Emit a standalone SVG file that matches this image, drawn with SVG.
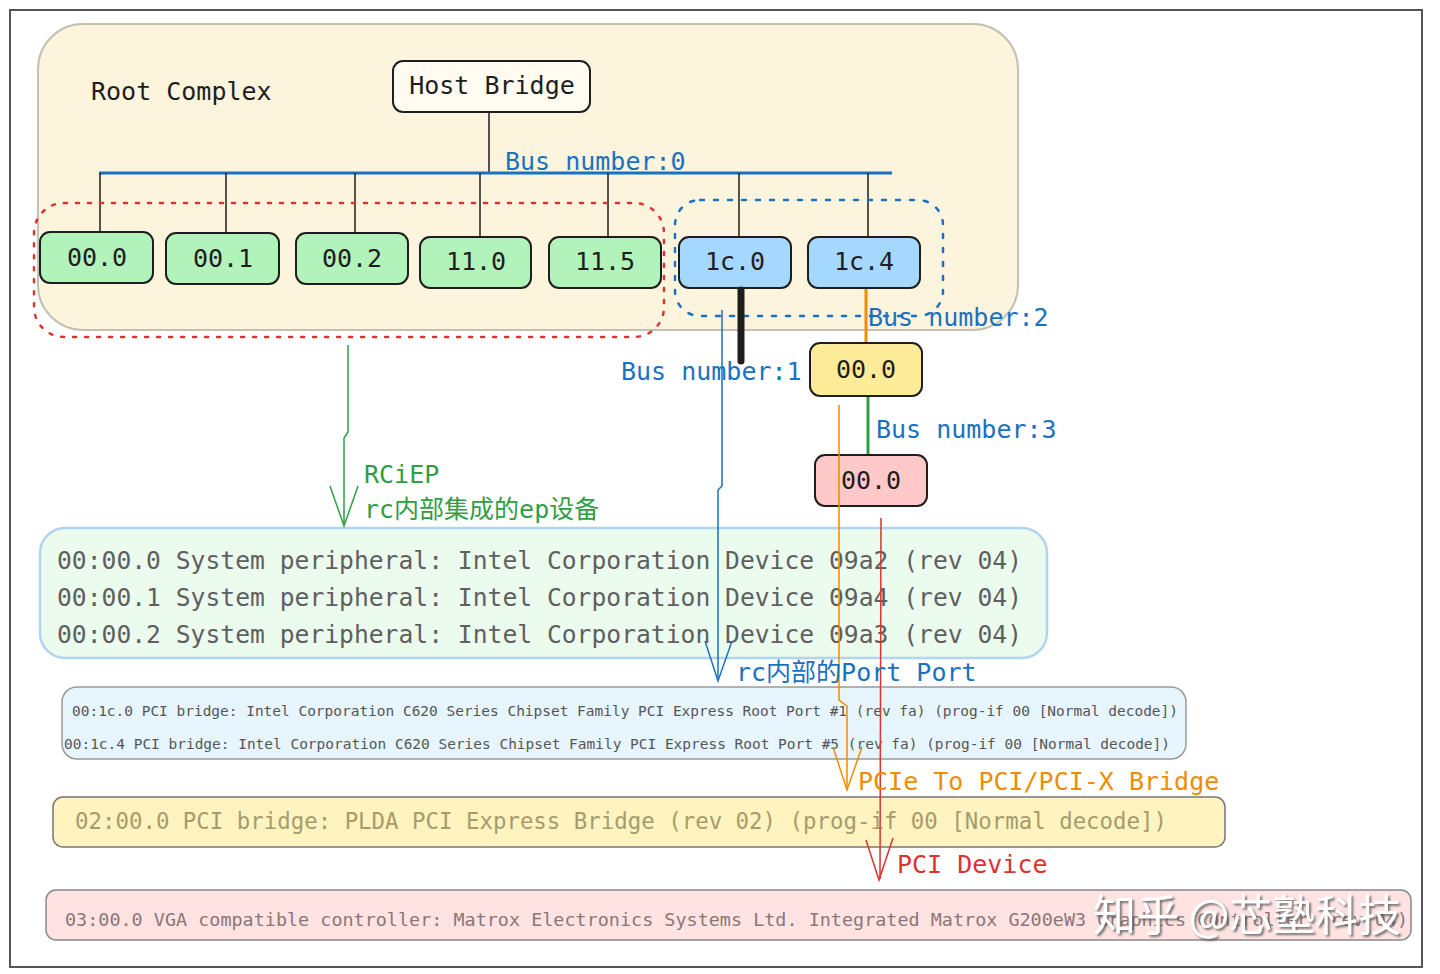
<svg xmlns="http://www.w3.org/2000/svg" width="1440" height="974" viewBox="0 0 1440 974">
<style>
.m{font-family:"DejaVu Sans Mono","Liberation Mono","Noto Sans CJK SC",monospace;font-size:25px}
.node{stroke:#1e1e1e;stroke-width:2}
.lbl{fill:#1e1e1e;text-anchor:middle}
.blue{fill:#1971c2}
.drop{stroke:#1e1e1e;stroke-width:1.5;fill:none}
.lsp{font-family:"DejaVu Sans Mono","Liberation Mono",monospace}
</style>
<defs>
<filter id="wm" x="-5%" y="-20%" width="110%" height="140%">
<feDropShadow dx="2" dy="2" stdDeviation="1" flood-color="#555" flood-opacity="0.8"/>
</filter>
</defs>
<rect x="0" y="0" width="1440" height="974" fill="#ffffff"/>
<rect x="10" y="10" width="1412" height="957" fill="#ffffff" stroke="#555" stroke-width="2"/>

<g id="root-complex">
<rect x="38" y="24" width="980" height="306" rx="45" fill="#fcf4dc" stroke="#c4c0b4" stroke-width="2"/>
<text class="m" x="91" y="100" fill="#1e1e1e">Root Complex</text>
</g>

<g id="host-bridge">
<rect class="node" x="393" y="61" width="197" height="51" rx="10" fill="#fffbf0"/>
<text class="m lbl" x="492" y="94">Host Bridge</text>
</g>

<g id="n-00-0"><rect class="node" x="40" y="232" width="113" height="51" rx="10" fill="#b2f2bb"/><text class="m lbl" x="97" y="266">00.0</text></g>
<g id="n-00-1"><rect class="node" x="166" y="233" width="113" height="51" rx="10" fill="#b2f2bb"/><text class="m lbl" x="223" y="267">00.1</text></g>
<g id="n-00-2"><rect class="node" x="296" y="233" width="112" height="51" rx="10" fill="#b2f2bb"/><text class="m lbl" x="352" y="267">00.2</text></g>
<g id="n-11-0"><rect class="node" x="420" y="237" width="111" height="51" rx="10" fill="#b2f2bb"/><text class="m lbl" x="476" y="270">11.0</text></g>
<g id="n-11-5"><rect class="node" x="549" y="237" width="112" height="51" rx="10" fill="#b2f2bb"/><text class="m lbl" x="605" y="270">11.5</text></g>
<g id="n-1c-0"><rect class="node" x="679" y="237" width="112" height="51" rx="10" fill="#a5d8ff"/><text class="m lbl" x="735" y="270">1c.0</text></g>
<g id="n-1c-4"><rect class="node" x="808" y="237" width="112" height="51" rx="10" fill="#a5d8ff"/><text class="m lbl" x="864" y="270">1c.4</text></g>
<g id="n-bridge"><rect class="node" x="810" y="343" width="112" height="53" rx="10" fill="#ffec99"/><text class="m lbl" x="866" y="378">00.0</text></g>
<g id="n-device"><rect class="node" x="815" y="455" width="112" height="51" rx="10" fill="#ffc9c9"/><text class="m lbl" x="871" y="489">00.0</text></g>

<g id="lspci-rciep">
<rect x="40" y="528" width="1007" height="130" rx="25" fill="#ebfbee" stroke="#b3d4ee" stroke-width="2.5"/>
<g class="lsp" font-size="25" fill="#5f5f5f">
<text x="57" y="569" textLength="965" lengthAdjust="spacingAndGlyphs">00:00.0 System peripheral: Intel Corporation Device 09a2 (rev 04)</text>
<text x="57" y="606" textLength="965" lengthAdjust="spacingAndGlyphs">00:00.1 System peripheral: Intel Corporation Device 09a4 (rev 04)</text>
<text x="57" y="643" textLength="965" lengthAdjust="spacingAndGlyphs">00:00.2 System peripheral: Intel Corporation Device 09a3 (rev 04)</text>
</g>
</g>

<g id="lspci-ports">
<rect x="62" y="687" width="1124" height="72" rx="15" fill="#e7f5ff" stroke="#9a9a9a" stroke-width="1.5"/>
<g class="lsp" font-size="14.5" fill="#555">
<text x="72" y="716" textLength="1106" lengthAdjust="spacingAndGlyphs">00:1c.0 PCI bridge: Intel Corporation C620 Series Chipset Family PCI Express Root Port #1 (rev fa) (prog-if 00 [Normal decode])</text>
<text x="64" y="749" textLength="1106" lengthAdjust="spacingAndGlyphs">00:1c.4 PCI bridge: Intel Corporation C620 Series Chipset Family PCI Express Root Port #5 (rev fa) (prog-if 00 [Normal decode])</text>
</g>
</g>

<g id="lspci-bridge">
<rect x="53" y="797" width="1172" height="50" rx="10" fill="#fff3bf" stroke="#777" stroke-width="1.5"/>
<text class="lsp" font-size="22.4" fill="#a89b6b" x="75" y="829" textLength="1092" lengthAdjust="spacingAndGlyphs">02:00.0 PCI bridge: PLDA PCI Express Bridge (rev 02) (prog-if 00 [Normal decode])</text>
</g>

<g id="lspci-vga">
<rect x="46" y="890" width="1365" height="50" rx="10" fill="#ffe3e3" stroke="#888" stroke-width="1.5"/>
<text class="lsp" font-size="18.4" fill="#8a7676" x="65" y="926" textLength="1343" lengthAdjust="spacingAndGlyphs">03:00.0 VGA compatible controller: Matrox Electronics Systems Ltd. Integrated Matrox G200eW3 Graphics Controller (rev 04)</text>
</g>

<g id="connectors">
<line x1="489" y1="112" x2="489" y2="173" class="drop"/>
<line x1="99" y1="173" x2="892" y2="173" stroke="#1971c2" stroke-width="3"/>
<line x1="100" y1="173" x2="100" y2="232" class="drop"/>
<line x1="226" y1="173" x2="226" y2="233" class="drop"/>
<line x1="355" y1="173" x2="355" y2="233" class="drop"/>
<line x1="480" y1="173" x2="480" y2="237" class="drop"/>
<line x1="608" y1="173" x2="608" y2="237" class="drop"/>
<line x1="739" y1="173" x2="739" y2="237" class="drop"/>
<line x1="868" y1="173" x2="868" y2="237" class="drop"/>
<rect x="34" y="203" width="630" height="134" rx="30" fill="none" stroke="#e03131" stroke-width="2.5" stroke-dasharray="3 9" stroke-linecap="round"/>
<rect x="675" y="200" width="268" height="116" rx="25" fill="none" stroke="#1971c2" stroke-width="2.5" stroke-dasharray="4 10" stroke-linecap="round"/>
<line x1="741" y1="290" x2="741" y2="361" stroke="#1e1e1e" stroke-width="7" stroke-linecap="round"/>
<line x1="866" y1="289" x2="866" y2="342" stroke="#f08c00" stroke-width="3"/>
<line x1="868" y1="397" x2="868" y2="454" stroke="#2f9e44" stroke-width="3"/>
<!-- green arrow -->
<path d="M348 345 L348 432 L344 438 L344 525" fill="none" stroke="#2f9e44" stroke-width="1.5"/>
<path d="M330 486 L344 526 L358 486" fill="none" stroke="#2f9e44" stroke-width="1.5"/>
<!-- blue arrow -->
<path d="M722 310 L722 486 L718 490 L718 680" fill="none" stroke="#1971c2" stroke-width="1.5"/>
<path d="M705 641 L718 681 L732 641" fill="none" stroke="#1971c2" stroke-width="1.5"/>
<!-- orange arrow -->
<path d="M839 405 L839 700 L847 706 L847 790" fill="none" stroke="#f08c00" stroke-width="1.5"/>
<path d="M833 747 L847 790 L862 747" fill="none" stroke="#f08c00" stroke-width="1.5"/>
<!-- red arrow -->
<line x1="881" y1="518" x2="880" y2="879" stroke="#e03131" stroke-width="1.5"/>
<path d="M866 840 L879 880 L893 838" fill="none" stroke="#e03131" stroke-width="1.5"/>
</g>

<g id="bus-labels">
<text class="m blue" x="505" y="170">Bus number:0</text>
<text class="m blue" x="621" y="380">Bus number:1</text>
<text class="m blue" x="868" y="326">Bus number:2</text>
<text class="m blue" x="876" y="438">Bus number:3</text>
</g>

<g id="arrow-labels">
<text class="m" x="364" y="483" fill="#2f9e44">RCiEP</text>
<text class="m" x="364" y="518" fill="#2f9e44">rc内部集成的ep设备</text>
<text class="m" x="736" y="681" fill="#1971c2">rc内部的Port Port</text>
<text class="m" x="858" y="790" fill="#f08c00">PCIe To PCI/PCI-X Bridge</text>
<text class="m" x="897" y="873" fill="#e03131">PCI Device</text>
</g>

<g id="watermark">
<text x="1093" y="931" font-family="'Noto Sans CJK SC','Noto Sans',sans-serif" font-size="43" fill="#ffffff" filter="url(#wm)">知乎 @芯塾科技</text>
</g>
</svg>
